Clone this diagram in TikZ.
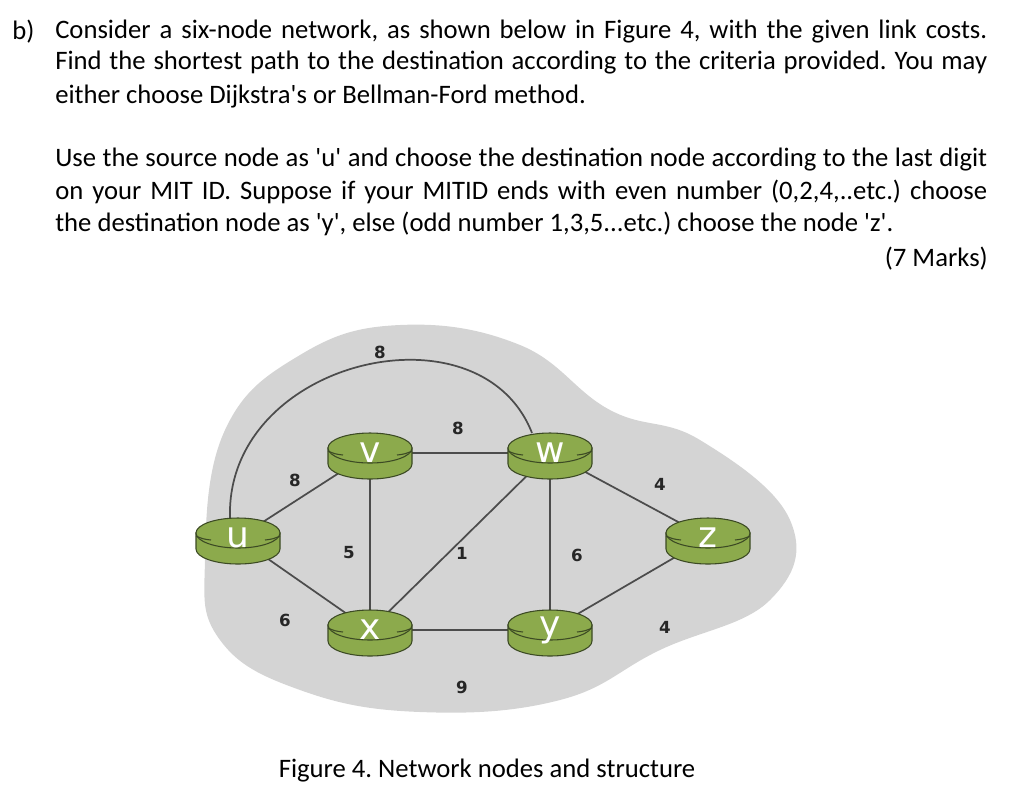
\documentclass[tikz,border=0pt]{standalone}
\usepackage{fontspec}
\setmainfont{Carlito}
\newfontfamily\routerfont{DejaVu Sans}
\usetikzlibrary{positioning}
\definecolor{RouterGreen}{HTML}{8CAA4C}
\definecolor{RouterEdge}{HTML}{3C4A24}
\definecolor{BlobGray}{HTML}{D4D4D4}
\pgfdeclarelayer{background}
\pgfsetlayers{background,main}
\frenchspacing

% router: name, x, y, label
\newcommand{\router}[4]{%
  \fill[RouterGreen, draw=RouterEdge, thick] (#2-42,#3-8) -- (#2-42,#3+8)
    arc[start angle=180, end angle=0, x radius=42, y radius=15] -- (#2+42,#3-8) -- cycle;
  \fill[RouterGreen, draw=RouterEdge, thick] (#2,#3-8) ellipse[x radius=42, y radius=15];
  \draw[RouterEdge, thick] (#2-42,#3-5) .. controls (#2-35,#3-2) .. (#2-27,#3-1);
  \draw[RouterEdge, thick] (#2+42,#3-5) .. controls (#2+35,#3-2) .. (#2+27,#3-1);
  \node[router] (#1) at (#2,#3-3) {#4};
}
\newcommand{\jline}[1]{\makebox[699pt][s]{#1}}
\newcommand{\q}{\textquotesingle}

\begin{document}
\begin{tikzpicture}[
    x=0.75pt, y=-0.75pt,
    every node/.style={font=\fontsize{20}{24}\selectfont, inner sep=0pt},
    router/.style={text=white, font=\routerfont\fontsize{27}{28}\selectfont},
    link/.style={draw=black!70, line width=1.3pt},
    cost/.style={font=\routerfont\bfseries\fontsize{12.5}{15}\selectfont, text=black!85}
  ]
  \useasboundingbox (0,0) rectangle (1024,808);

  % question text
  \node[anchor=west] (b) at (12,32) {b)};
  \node[anchor=west] (q1) at (55,32) {\jline{Consider a six-node network, as shown below in Figure 4, with the given link costs.}};
  \node[anchor=west] (q2) at (55,63) {\jline{Find the shortest path to the destination according to the criteria provided. You may}};
  \node[anchor=west] (q3) at (55,97) {either choose Dijkstra\q s or Bellman-Ford method.};
  \node[anchor=west] (q4) at (55,160) {\jline{Use the source node as \q u\q{} and choose the destination node according to the last digit}};
  \node[anchor=west] (q5) at (55,192) {\jline{on your MIT ID. Suppose if your MITID ends with even number (0,2,4,..etc.) choose}};
  \node[anchor=west] (q6) at (55,224) {the destination node as \q y\q, else (odd number 1,3,5...etc.) choose the node \q z\q.};
  \node[anchor=east] (marks) at (988,259) {(7 Marks)};

  % network cloud
  \begin{pgfonlayer}{background}
    \fill[BlobGray] plot[smooth cycle, tension=0.7] coordinates {
      (205,560) (225,430) (300,355) (400,325) (520,345) (610,410)
      (700,440) (790,520) (770,600) (660,650) (560,700) (420,712) (300,690) (220,640)};
  \end{pgfonlayer}

  % routers
  \router{u}{238}{541}{u}
  \router{v}{370}{456}{v}
  \router{w}{550}{456}{w}
  \router{x}{370}{633}{x}
  \router{y}{550}{633}{y}
  \router{z}{708}{541}{z}

  % links
  \begin{pgfonlayer}{background}
    \path (u.center) ++(-8,-20) coordinate (ut) (w.center) ++(-18,-20) coordinate (wt);
    \draw[link] (ut) .. controls (225,360) and (480,300) .. (wt);
    \draw[link] (u.center) -- (v.center);
    \draw[link] (u.center) -- (x.center);
    \draw[link] (v.center) -- (w.center);
    \draw[link] (v.center) -- (x.center);
    \draw[link] (x.center) -- (w.center);
    \draw[link] (x.center) -- (y.center);
    \draw[link] (w.center) -- (y.center);
    \draw[link] (w.center) -- (z.center);
    \draw[link] (y.center) -- (z.center);
  \end{pgfonlayer}

  % costs
  \node[cost] (c-uw) at (380,352) {8};
  \node[cost] (c-vw) at (458,428) {8};
  \node[cost] (c-uv) at (295,480) {8};
  \node[cost] (c-vx) at (349,553) {5};
  \node[cost] (c-xw) at (462,553) {1};
  \node[cost] (c-wy) at (577,555) {6};
  \node[cost] (c-ux) at (285,620) {6};
  \node[cost] (c-xy) at (462,687) {9};
  \node[cost] (c-wz) at (660,484) {4};
  \node[cost] (c-yz) at (665,627) {4};

  \node (caption) at (487,771) {Figure 4. Network nodes and structure};
\end{tikzpicture}
\end{document}
